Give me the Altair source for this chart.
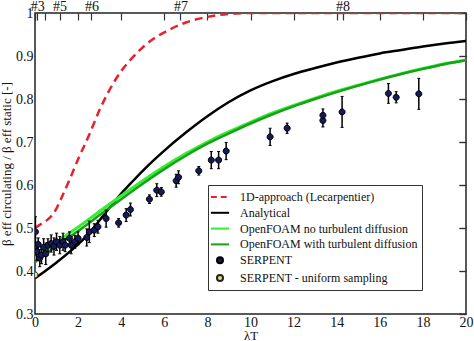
import altair as alt
import pandas as pd

# ---------------- data ----------------
red_x = [0, 0.3, 0.6, 0.9, 1.2, 1.6, 2.0, 2.5, 3.0, 3.5, 4.0, 4.5, 5.0, 5.5, 6.0, 7.0, 8.0, 9.0, 10, 12, 15, 20]
red_y = [0.50, 0.51, 0.52, 0.537, 0.567, 0.612, 0.66, 0.715, 0.775, 0.825, 0.865, 0.895, 0.92, 0.94, 0.955, 0.978, 0.991, 0.998, 1.0, 1.0, 1.0, 1.0]

black_x = [0, 1, 2, 2.5, 3, 3.5, 4, 4.5, 5, 6, 7, 8, 9, 10, 11, 12, 13, 14, 15, 16, 17, 18, 19, 20]
black_y = [0.383, 0.42, 0.462, 0.487, 0.518, 0.55, 0.58, 0.607, 0.633, 0.68, 0.722, 0.76, 0.793, 0.82,
           0.841, 0.858, 0.872, 0.885, 0.896, 0.906, 0.914, 0.922, 0.929, 0.935]

green_x = [0, 0.5, 1, 1.5, 2, 3, 4, 5, 6, 7, 8, 9, 10, 11, 12, 13, 14, 15, 16, 17, 18, 19, 20]
light_y = [0.428, 0.449, 0.467, 0.485, 0.502, 0.539, 0.575, 0.61, 0.643, 0.673, 0.70, 0.724, 0.746, 0.767,
           0.785, 0.802, 0.818, 0.832, 0.846, 0.859, 0.871, 0.882, 0.891]
dark_y = [0.42, 0.44, 0.458, 0.476, 0.493, 0.53, 0.567, 0.603, 0.637, 0.668, 0.696, 0.72, 0.743, 0.764,
          0.783, 0.80, 0.816, 0.831, 0.845, 0.858, 0.87, 0.881, 0.89]

serp_x = [0.02, 0.0, 0.08, 0.15, 0.22, 0.3, 0.4, 0.5, 0.6, 0.75, 0.88, 1.0, 1.15, 1.3, 1.4, 1.6, 1.68, 1.85,
          2.0, 2.4, 2.52, 2.75, 2.92, 3.3, 3.88, 4.23, 4.43, 5.31, 5.65, 5.86, 6.55, 6.66, 7.6, 8.18, 8.52,
          8.87, 10.91, 11.7, 13.36, 13.36, 14.25, 16.4, 16.76, 17.81]
serp_y = [0.491, 0.457, 0.445, 0.462, 0.43, 0.437, 0.455, 0.44, 0.46, 0.464, 0.457, 0.468, 0.46, 0.468,
          0.46, 0.476, 0.46, 0.468, 0.476, 0.478, 0.491, 0.495, 0.503, 0.522, 0.512, 0.53, 0.543, 0.567,
          0.588, 0.584, 0.61, 0.618, 0.633, 0.658, 0.658, 0.679, 0.712, 0.732, 0.75, 0.762, 0.77, 0.813,
          0.804, 0.812]
serp_err = [0.035, 0.02, 0.02, 0.015, 0.02, 0.02, 0.02, 0.025, 0.015, 0.02, 0.02, 0.02, 0.02, 0.02,
            0.015, 0.015, 0.02, 0.015, 0.015, 0.02, 0.025, 0.015, 0.015, 0.02, 0.01, 0.015, 0.015, 0.01,
            0.015, 0.01, 0.015, 0.015, 0.01, 0.02, 0.02, 0.02, 0.02, 0.012, 0.015, 0.015, 0.036, 0.023,
            0.013, 0.036]

uni_x = [0.0]
uni_y = [0.391]

top_ticks = [0.02, 0.1, 0.47, 1.14, 2.62, 6.75, 14.27]
top_labels = ["", "#3", "", "#5", "#6", "#7", "#8"]

x_ticks = list(range(0, 21, 2))
y_ticks = [0.3, 0.4, 0.5, 0.6, 0.7, 0.8, 0.9, 1.0]

series = ["1D-approach (Lecarpentier)", "Analytical", "OpenFOAM no turbulent diffusion",
          "OpenFOAM with turbulent diffusion", "SERPENT", "SERPENT - uniform sampling"]
stroke_cols = ["#e8202a", "#000000", "#33ee33", "#18a018", "#000000", "#222222"]
fill_cols = ["transparent", "transparent", "transparent", "transparent", "#141a5a", "#e8e070"]

LINE = "M-1.3,0H1.3"
DASH = "M-1.3,0H-0.45M0.1,0H0.95"
CIRC = "M-0.43,0A0.43,0.43,0,1,1,0.43,0A0.43,0.43,0,1,1,-0.43,0Z"
shapes = [DASH, LINE, LINE, LINE, CIRC, CIRC]

FONT = "Liberation Serif, Times New Roman, DejaVu Serif, serif"

# ---------------- frames ----------------
df_red = pd.DataFrame({"x": red_x, "y": red_y})
df_black = pd.DataFrame({"x": black_x, "y": black_y})
df_light = pd.DataFrame({"x": green_x, "y": light_y})
df_dark = pd.DataFrame({"x": green_x, "y": dark_y})
df_serp = pd.DataFrame({"x": serp_x, "y": serp_y,
                        "lo": [a - b for a, b in zip(serp_y, serp_err)],
                        "hi": [a + b for a, b in zip(serp_y, serp_err)],
                        "series": series[4]})
df_uni = pd.DataFrame({"x": uni_x, "y": uni_y, "series": series[5]})
df_pts = pd.concat([df_serp[["x", "y", "series"]], df_uni], ignore_index=True)

xs = alt.Scale(domain=[0, 20], nice=False, zero=False)
ys = alt.Scale(domain=[0.3, 1.0], nice=False, zero=False)

top_expr = " : ".join(f"datum.value == {v} ? '{l}'" for v, l in zip(top_ticks, top_labels)) + " : ''"

ax_bottom_lab = alt.Axis(values=x_ticks, ticks=False, domain=False, grid=False, labelFont=FONT,
                         labelFontSize=14, labelPadding=1, labelColor="#111", title="λT",
                         titleFont=FONT, titleFontSize=13, titleFontWeight="normal", titlePadding=0,
                         titleColor="#111", labelFlush=False)
ax_bottom_tick = alt.Axis(values=x_ticks, ticks=True, tickSize=7, tickWidth=1.2, tickColor="#333",
                          offset=-7, labels=False, domain=False, grid=False, title=None)
ax_top_lab = alt.Axis(orient="top", values=top_ticks, labelExpr=top_expr, ticks=False, domain=False,
                      grid=False, labelFont=FONT, labelFontSize=14, labelPadding=0, labelColor="#111",
                      title=None, labelFlush=False, labelOverlap=False)
ax_top_tick = alt.Axis(orient="top", values=top_ticks, ticks=True, tickSize=7, tickWidth=1.2,
                       tickColor="#333", offset=-7, labels=False, domain=False, grid=False, title=None)

ax_left_lab = alt.Axis(values=y_ticks, ticks=False, domain=False, grid=False, labelFont=FONT,
                       labelFontSize=14, labelPadding=2, labelColor="#111",
                       labelExpr="datum.value == 1 ? '1' : format(datum.value, '.1f')",
                       title="β eff circulating / β eff static [-]", titleFont=FONT, titleFontSize=13,
                       titleFontWeight="normal", titlePadding=2, titleColor="#111", labelFlush=False)
ax_left_tick = alt.Axis(values=y_ticks, ticks=True, tickSize=7, tickWidth=1.2, tickColor="#333",
                        offset=-7, labels=False, domain=False, grid=False, title=None)
ax_right_tick = alt.Axis(orient="right", values=y_ticks, ticks=True, tickSize=7, tickWidth=1.2,
                         tickColor="#333", offset=-7, labels=False, domain=False, grid=False, title=None)

red = alt.Chart(df_red).mark_line(color=stroke_cols[0], strokeWidth=2.5, strokeDash=[8, 5],
                                   interpolate="monotone", clip=True).encode(
    x=alt.X("x:Q", scale=xs, axis=ax_bottom_lab),
    y=alt.Y("y:Q", scale=ys, axis=ax_left_lab))

black = alt.Chart(df_black).mark_line(color=stroke_cols[1], strokeWidth=2.5,
                                       interpolate="monotone", clip=True).encode(
    x=alt.X("x:Q", scale=xs, axis=ax_bottom_tick),
    y=alt.Y("y:Q", scale=ys, axis=ax_left_tick))

light = alt.Chart(df_light).mark_line(color=stroke_cols[2], strokeWidth=3,
                                       interpolate="monotone", clip=True).encode(
    x=alt.X("x:Q", scale=xs, axis=ax_top_lab),
    y=alt.Y("y:Q", scale=ys, axis=ax_right_tick))

dark = alt.Chart(df_dark).mark_line(color=stroke_cols[3], strokeWidth=2.5,
                                     interpolate="monotone", clip=True).encode(
    x=alt.X("x:Q", scale=xs, axis=ax_top_tick),
    y=alt.Y("y:Q", scale=ys, axis=None))

errs = alt.Chart(df_serp).mark_rule(color="#000", strokeWidth=1.5, clip=True).encode(
    x=alt.X("x:Q", scale=xs, axis=None),
    y=alt.Y("lo:Q", scale=ys, axis=None),
    y2="hi:Q")

caps_hi = alt.Chart(df_serp).mark_tick(color="#000", orient="horizontal", size=3, thickness=1,
                                       opacity=1, clip=True).encode(
    x=alt.X("x:Q", scale=xs, axis=None),
    y=alt.Y("hi:Q", scale=ys, axis=None))
caps_lo = alt.Chart(df_serp).mark_tick(color="#000", orient="horizontal", size=3, thickness=1,
                                       opacity=1, clip=True).encode(
    x=alt.X("x:Q", scale=xs, axis=None),
    y=alt.Y("lo:Q", scale=ys, axis=None))

leg = alt.Legend(title=None, orient="none", legendX=173, legendY=172)
pts = alt.Chart(df_pts).mark_point(filled=True, size=196, strokeWidth=1, opacity=1, clip=True).encode(
    x=alt.X("x:Q", scale=xs, axis=None),
    y=alt.Y("y:Q", scale=ys, axis=None),
    shape=alt.Shape("series:N", scale=alt.Scale(domain=series, range=shapes), legend=leg),
    fill=alt.Fill("series:N", scale=alt.Scale(domain=series, range=fill_cols), legend=leg),
    stroke=alt.Stroke("series:N", scale=alt.Scale(domain=series, range=stroke_cols), legend=leg))

chart = alt.layer(red, black, light, dark, errs, caps_hi, caps_lo, pts).resolve_axis(
    x="independent", y="independent"
).properties(
    width=431, height=301,
    autosize=alt.AutoSizeParams(type="none"),
    padding={"left": 35, "top": 13, "right": 8, "bottom": 27},
).configure_view(stroke="#222", strokeWidth=1.5).configure_legend(
    labelFont=FONT, labelFontSize=12, labelColor="#111", symbolSize=196, symbolStrokeWidth=2,
    strokeColor="#333", fillColor="white", padding=4, rowPadding=1.8, labelOffset=12,
    symbolOpacity=1, labelLimit=400,
)

chart.save("out.html", embed_options={"renderer": "svg", "actions": False})
